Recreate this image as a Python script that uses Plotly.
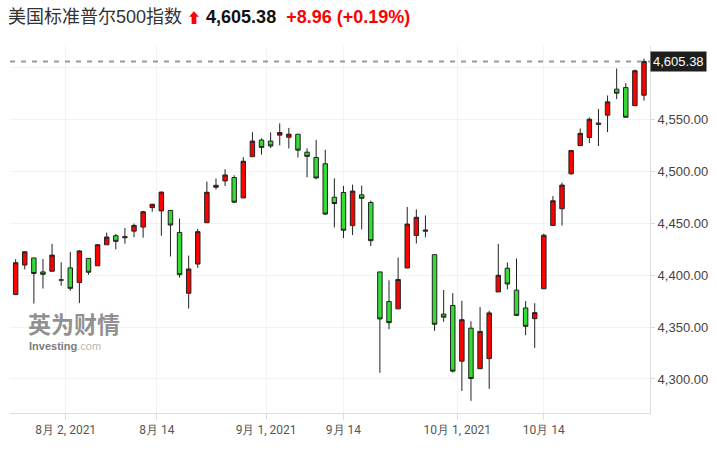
import plotly.graph_objects as go

dates = ["2021-07-23","2021-07-26","2021-07-27","2021-07-28","2021-07-29","2021-07-30",
 "2021-08-02","2021-08-03","2021-08-04","2021-08-05","2021-08-06","2021-08-09","2021-08-10",
 "2021-08-11","2021-08-12","2021-08-13","2021-08-16","2021-08-17","2021-08-18","2021-08-19",
 "2021-08-20","2021-08-23","2021-08-24","2021-08-25","2021-08-26","2021-08-27","2021-08-30",
 "2021-08-31","2021-09-01","2021-09-02","2021-09-03","2021-09-07","2021-09-08","2021-09-09",
 "2021-09-10","2021-09-13","2021-09-14","2021-09-15","2021-09-16","2021-09-17","2021-09-20",
 "2021-09-21","2021-09-22","2021-09-23","2021-09-24","2021-09-27","2021-09-28","2021-09-29",
 "2021-09-30","2021-10-01","2021-10-04","2021-10-05","2021-10-06","2021-10-07","2021-10-08",
 "2021-10-11","2021-10-12","2021-10-13","2021-10-14","2021-10-15","2021-10-18","2021-10-19",
 "2021-10-20","2021-10-21","2021-10-22","2021-10-25","2021-10-26","2021-10-27","2021-10-28",
 "2021-10-29"]

open_ = [4381.20,4409.58,4416.38,4402.95,4403.59,4395.12,
 4406.86,4392.74,4415.95,4408.86,4429.07,4437.77,4435.79,4442.18,4446.08,4464.84,
 4461.65,4462.12,4440.94,4382.44,4410.56,4450.29,4484.40,4490.45,4493.75,4474.10,4513.76,
 4529.75,4528.80,4534.48,4532.42,4535.38,4518.09,4513.02,4506.92,4474.81,4479.33,4447.49,
 4477.09,4469.74,4402.95,4374.45,4367.43,4406.75,4438.04,4442.12,4419.54,4362.41,4370.67,
 4317.16,4348.84,4309.87,4319.57,4383.73,4406.51,4385.44,4368.31,4358.01,4386.75,4447.69,
 4463.72,4497.34,4524.42,4532.24,4546.12,4553.69,4578.69,4580.22,4562.84,4572.87]
high = [4415.18,4422.73,4416.38,4415.47,4429.97,4412.25,
 4422.18,4423.79,4416.17,4429.76,4440.82,4439.39,4445.21,4449.44,4461.77,4468.37,
 4480.26,4462.12,4454.32,4418.61,4444.35,4489.88,4492.81,4501.71,4495.90,4513.33,4537.36,
 4531.39,4537.11,4545.85,4541.45,4535.38,4521.79,4529.90,4520.47,4492.99,4485.68,4486.87,
 4485.87,4471.52,4402.95,4394.87,4416.75,4465.40,4463.12,4457.30,4419.54,4385.57,4382.55,
 4375.19,4355.51,4369.23,4365.57,4429.97,4412.02,4415.88,4374.89,4372.87,4439.73,4475.82,
 4488.75,4520.40,4540.87,4551.44,4559.67,4572.62,4598.53,4584.57,4597.55,4608.08]
low = [4381.20,4405.45,4372.51,4387.01,4403.59,4389.65,
 4384.81,4373.00,4400.23,4408.86,4429.07,4424.74,4430.03,4436.42,4435.96,4460.82,
 4437.66,4417.83,4397.59,4367.73,4406.80,4450.29,4482.28,4485.66,4468.99,4474.10,4513.76,
 4515.80,4522.02,4524.66,4521.65,4513.00,4493.95,4492.07,4457.66,4445.70,4435.46,4438.37,
 4443.80,4427.76,4305.91,4347.96,4367.43,4406.75,4430.27,4436.19,4346.33,4355.08,4306.24,
 4288.52,4278.94,4309.87,4290.49,4383.73,4386.22,4360.59,4342.09,4329.92,4386.75,4447.69,
 4447.47,4496.41,4524.40,4526.89,4524.00,4537.36,4569.17,4551.66,4562.84,4567.59]
close = [4411.79,4422.30,4401.46,4400.64,4419.15,4395.26,
 4387.16,4423.15,4402.66,4429.10,4436.52,4432.35,4436.75,4447.70,4460.83,4468.00,
 4479.71,4448.08,4400.27,4405.80,4441.67,4479.53,4486.23,4496.19,4470.00,4509.37,4528.79,
 4522.68,4524.09,4536.95,4535.43,4520.03,4514.07,4493.28,4458.58,4468.73,4443.05,4480.70,
 4473.75,4432.99,4357.73,4354.19,4395.64,4448.98,4455.48,4443.11,4352.63,4359.46,4307.54,
 4357.04,4300.46,4345.72,4363.55,4399.76,4391.34,4361.19,4350.65,4363.80,4438.26,4471.37,
 4486.46,4519.63,4536.19,4549.78,4544.90,4566.48,4574.79,4551.68,4596.42,4605.38]

tick_dates = ["2021-08-02", "2021-08-16", "2021-09-01", "2021-09-14", "2021-10-01", "2021-10-14"]
tick_shift = [-0.5, -0.5, -0.5, 0, -0.5, 0]
tick_labels = ["8月 2, 2021", "8月 14", "9月 1, 2021", "9月 14", "10月 1, 2021", "10月 14"]

y_ticks = [4300, 4350, 4400, 4450, 4500, 4550, 4600]
y_labels = ["4,300.00", "4,350.00", "4,400.00", "4,450.00", "4,500.00", "4,550.00", ""]

last_price = 4605.38
change = 8.96
change_pct = 0.19
title_name = "美国标准普尔500指数"

x = list(range(len(dates)))
tick_pos = [dates.index(d) + s for d, s in zip(tick_dates, tick_shift)]

UP = "#ff0000"
DOWN = "#33dd33"

fig = go.Figure()
fig.add_trace(go.Candlestick(
    x=x, open=open_, high=high, low=low, close=close,
    increasing=dict(line=dict(color="#222222", width=1), fillcolor=UP),
    decreasing=dict(line=dict(color="#222222", width=1), fillcolor=DOWN),
    whiskerwidth=0, showlegend=False, hoverinfo="skip",
))

fig.add_shape(type="line", xref="paper", yref="y", x0=0, x1=1,
              y0=last_price, y1=last_price,
              line=dict(color="#999999", width=2, dash="5px,6px"))

fig.add_annotation(xref="paper", yref="y", x=1, y=last_price, xanchor="left", yanchor="middle",
                   xshift=0, text=f"{last_price:,.2f}", showarrow=False,
                   bgcolor="#1e1e1e", borderpad=2,
                   font=dict(family="Liberation Sans, Arial", size=13, color="white"))

title_html = (f"<span style='color:#333333'>{title_name}</span> "
              f"<span style='color:{UP};font-size:14px'>⬆</span> "
              f"<b style='color:#111111'>{last_price:,.2f}</b>  "
              f"<b style='color:{UP}'>+{change:.2f} (+{change_pct:.2f}%)</b>")
fig.add_annotation(xref="paper", yref="paper", x=0, y=1, xanchor="left", yanchor="middle",
                   xshift=-4, yshift=29, text=title_html, showarrow=False,
                   font=dict(family="Liberation Sans, Noto Sans CJK SC", size=18, color="#333333"))

fig.add_annotation(xref="paper", yref="paper", x=0, y=0, xanchor="left", yanchor="middle",
                   xshift=16, yshift=90, text="<b>英为财情</b>", showarrow=False,
                   font=dict(family="Noto Sans CJK SC", size=23, color="rgba(125,125,125,0.85)"))
fig.add_annotation(xref="paper", yref="paper", x=0, y=0, xanchor="left", yanchor="middle",
                   xshift=17, yshift=67,
                   text="<b>Investing</b><span style='color:rgba(150,150,150,0.8)'>.com</span>",
                   showarrow=False,
                   font=dict(family="Liberation Sans, Arial", size=11, color="rgba(105,105,105,0.9)"))

fig.update_layout(
    width=717, height=456,
    margin=dict(l=10, r=67, t=46, b=43),
    paper_bgcolor="white", plot_bgcolor="white",
    xaxis=dict(
        range=[-0.62, 69.66], rangeslider=dict(visible=False),
        tickmode="array", tickvals=tick_pos, ticktext=tick_labels,
        showgrid=True, gridcolor="#f3f3f5", gridwidth=1,
        showline=True, linecolor="#dcdce2", linewidth=1,
        ticks="outside", ticklen=6, tickcolor="#dcdce2",
        tickfont=dict(family="Roboto", size=12, color="#555555"),
        zeroline=False, fixedrange=True,
    ),
    yaxis=dict(
        side="right", range=[4267.3, 4620.2],
        tickmode="array", tickvals=y_ticks, ticktext=y_labels,
        showgrid=True, gridcolor="#f3f3f5", gridwidth=1,
        showline=True, linecolor="#dcdce2", linewidth=1,
        ticks="outside", ticklen=4, tickcolor="#dcdce2",
        tickfont=dict(family="Liberation Sans, Arial", size=13, color="#444444"),
        zeroline=False, fixedrange=True,
    ),
    hovermode=False,
)

fig.write_html("out.html")
